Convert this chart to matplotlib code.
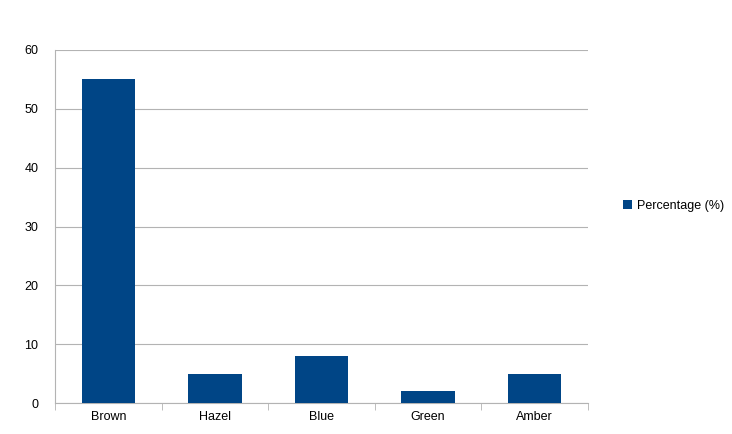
import matplotlib
matplotlib.use("Agg")
import matplotlib.pyplot as plt
import numpy as np

categories = ["Brown", "Hazel", "Blue", "Green", "Amber"]
percentage = [55, 5, 8, 2, 5]
yticks = [0, 10, 20, 30, 40, 50, 60]

plt.rcParams["font.family"] = ["Liberation Sans", "DejaVu Sans"]
fig = plt.figure(figsize=(7.32, 4.34), dpi=100)
ax = fig.add_axes([55 / 732, 31 / 434, 533 / 732, 353 / 434])

x = np.arange(len(categories))
ax.bar(x, percentage, 0.5, color="#004586", label="Percentage (%)", zorder=3)
ax.set_xlim(-0.5, len(categories) - 0.5)
ax.set_ylim(0, 60)
ax.set_yticks(yticks)
ax.set_xticks(x)
ax.set_xticklabels(categories, fontsize=9)
ax.tick_params(axis="y", labelsize=9, length=0, pad=12)
ax.tick_params(axis="x", length=0, pad=6)
# category separators as minor ticks
ax.set_xticks(np.arange(-0.5, len(categories), 1), minor=True)
ax.tick_params(axis="x", which="minor", length=5, color="#b3b3b3", direction="out")
ax.grid(axis="y", color="#b3b3b3", lw=0.8, zorder=0)
for s in ax.spines.values():
    s.set_color("#b3b3b3")
ax.spines["top"].set_visible(False)
ax.spines["right"].set_visible(False)

fig.legend(loc="center left", bbox_to_anchor=(612 / 732, 228 / 434 + 0.0), frameon=False,
           fontsize=9, handlelength=0.7, handleheight=0.7, handletextpad=0.4)
fig.savefig("out.png", dpi=100)
